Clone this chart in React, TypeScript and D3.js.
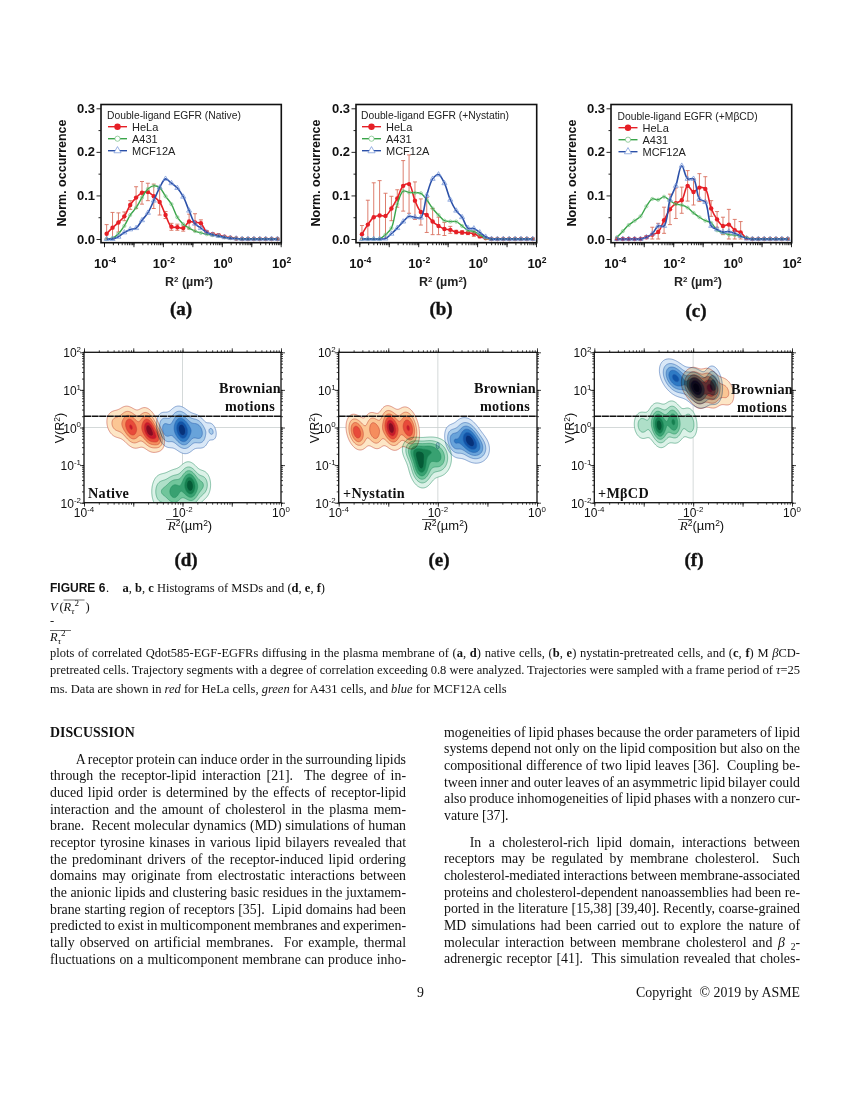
import React, { useEffect, useRef } from 'react';
import * as d3 from 'd3';

// bin centres of the MSD histograms, log10(um^2)
const binExponents = [-3.91, -3.71, -3.51, -3.31, -3.11, -2.91, -2.71, -2.51, -2.31, -2.11, -1.91, -1.71, -1.51, -1.31, -1.11, -0.91, -0.71, -0.51, -0.31, -0.11, 0.09, 0.29, 0.49, 0.69, 0.89, 1.09, 1.29, 1.49, 1.69, 1.89];

const helaNative = [.012, .026, .038, .052, .078, .095, .106, .108, .098, .085, .055, .028, .027, .025, .04, .038, .036, .015, .011, .009, .005, .003, .001, 0, 0, 0, 0, 0, 0, 0];
const helaNativeErr = [.021, .035, .022, .01, .01, .025, .026, .02, .028, .03, .008, .008, .007, .007, .017, .02, .008, .004, .003, .002, 0, 0, 0, 0, 0, 0, 0, 0, 0, 0];
const a431Native = [0, .002, .012, .03, .055, .072, .095, .115, .122, .118, .098, .08, .05, .034, .025, .018, .014, .011, .009, .007, .004, .002, .001, 0, 0, 0, 0, 0, 0, 0];
const mcfNative = [0, 0, .005, .015, .022, .025, .043, .06, .088, .118, .138, .128, .117, .097, .065, .035, .025, .015, .01, .007, .004, .002, .001, 0, 0, 0, 0, 0, 0, 0];

const helaNystatin = [.011, .033, .05, .054, .053, .07, .093, .122, .126, .088, .062, .055, .04, .03, .023, .021, .016, .015, .014, .012, .006, .002, 0, 0, 0, 0, 0, 0, 0, 0];
const helaNystatinErr = [.02, .056, .079, .08, .052, .028, .02, .058, .067, .043, .03, .04, .03, .02, .015, .008, .004, .004, .004, .006, .003, 0, 0, 0, 0, 0, 0, 0, 0, 0];
const a431Nystatin = [0, 0, 0, 0, .01, .025, .08, .11, .107, .106, .105, .09, .07, .055, .042, .04, .04, .03, .02, .017, .01, .002, 0, 0, 0, 0, 0, 0, 0, 0];
const mcfNystatin = [0, 0, 0, 0, .001, .012, .025, .04, .052, .05, .049, .1, .138, .148, .128, .09, .065, .05, .025, .024, .015, .005, 0, 0, 0, 0, 0, 0, 0, 0];

const helaMbcd = [0, 0, 0, 0, 0, .004, .01, .016, .043, .068, .082, .089, .122, .108, .118, .115, .07, .045, .03, .033, .02, .015, .002, 0, 0, 0, 0, 0, 0, 0];
const helaMbcdErr = [0, 0, 0, 0, 0, .003, .017, .02, .03, .035, .035, .03, .035, .03, .032, .028, .018, .018, .02, .035, .025, .025, 0, 0, 0, 0, 0, 0, 0, 0];
const a431Mbcd = [.004, .018, .032, .042, .052, .075, .092, .09, .097, .088, .08, .078, .072, .06, .05, .042, .037, .02, .014, .01, .009, .006, .003, 0, 0, 0, 0, 0, 0, 0];
const mcfMbcd = [0, 0, 0, 0, 0, .004, .012, .03, .03, .09, .122, .168, .138, .138, .092, .085, .03, .022, .016, .017, .013, .007, .001, 0, 0, 0, 0, 0, 0, 0];

const cellNames = ['HeLa', 'A431', 'MCF12A'];
const yTicks = [0, 0.1, 0.2, 0.3];
const histTitles = ['Double-ligand EGFR (Native)', 'Double-ligand EGFR (+Nystatin)', 'Double-ligand EGFR (+M\u03b2CD)'];

// lobes of the V(R2) density maps: log10 R2, log10 V, height, sd x, sd y, correlation
type Lobe = [number, number, number, number, number, number];
const redNative: Lobe[] = [[-3.37, .08, .35, .13, .25, -.2], [-3.05, 0, .8, .13, .3, -.35], [-2.69, -.07, 1, .12, .3, -.35], [-2.5, -.3, .4, .08, .18, -.3]];
const blueNative: Lobe[] = [[-2.36, -.07, .5, .11, .28, -.3], [-2.02, -.07, 1, .14, .32, -.25], [-1.68, -.11, .55, .12, .26, -.3], [-1.41, -.11, .3, .07, .16, -.3]];
const greenNative: Lobe[] = [[-2.46, -1.71, .4, .12, .3, 0], [-2.17, -1.71, .7, .13, .32, 0], [-1.85, -1.55, 1, .12, .32, -.15], [-1.58, -1.53, .4, .1, .24, 0]];

const redNystatin: Lobe[] = [[-3.64, -.13, .75, .12, .26, -.3], [-3.29, -.09, .6, .11, .28, -.3], [-2.95, -.02, 1, .12, .3, -.3], [-2.6, -.02, .8, .12, .3, -.3]];
const greenNystatin: Lobe[] = [[-2.35, -1.04, 1, .13, .3, -.15], [-2.49, -.62, .6, .14, .2, -.1], [-1.99, -.82, .7, .15, .28, 0], [-2.19, -.58, .5, .13, .18, 0]];
const blueNystatin: Lobe[] = [[-1.385, -.33, 1, .15, .3, -.3], [-1.69, -.38, .55, .11, .25, -.35], [-1.15, -.55, .35, .13, .22, -.1], [-2.01, -.49, .3, .025, .07, 0]];

const blueMbcd: Lobe[] = [[-2.37, 1.31, .85, .17, .27, -.4], [-1.93, 1.04, 1, .14, .27, -.3], [-1.59, 1.13, .7, .1, .28, -.2]];
const redMbcd: Lobe[] = [[-1.93, 1.04, 1, .11, .28, -.3], [-1.66, 1.04, .9, .11, .28, -.3], [-1.36, .95, .4, .13, .26, -.3], [-2.1, 1.13, .35, .11, .22, -.2]];
const greenMbcd: Lobe[] = [[-3.04, .05, .4, .11, .24, -.1], [-2.7, .05, 1, .11, .3, -.2], [-2.4, .14, .8, .11, .3, -.2], [-2.08, .11, .45, .1, .26, -.2]];

const densityLevels = [.14, .3, .46, .62, .78, .9];
const redRamp = ['#fde6c6', '#fbc694', '#f58d5e', '#e84a3a', '#c9182b', '#860a22'];
const greenRamp = ['#dcf2e8', '#aedfc8', '#70c59b', '#38a171', '#167f4f', '#055a36'];
const blueRamp = ['#d9e8f7', '#a6cbea', '#68a3da', '#2e7ac4', '#1055a8', '#06327a'];

const captionLines = [
  'plots of correlated Qdot585-EGF-EGFRs diffusing in the plasma membrane of (<b>a</b>, <b>d</b>) native cells, (<b>b</b>, <b>e</b>) nystatin-pretreated cells, and (<b>c</b>, <b>f</b>) M <i>\u03b2</i>CD-',
  'pretreated cells. Trajectory segments with a degree of correlation exceeding 0.8 were analyzed. Trajectories were sampled with a frame period of <i>\u03c4</i>=25',
];
const captionLast = 'ms. Data are shown in <i>red</i> for HeLa cells, <i>green</i> for A431 cells, and <i>blue</i> for MCF12A cells';

const leftColumn = [
  'A receptor protein can induce order in the surrounding lipids',
  'through the receptor-lipid interaction [21].  The degree of in-',
  'duced lipid order is determined by the effects of receptor-lipid',
  'interaction and the amount of cholesterol in the plasma mem-',
  'brane.  Recent molecular dynamics (MD) simulations of human',
  'receptor tyrosine kinases in various lipid bilayers revealed that',
  'the predominant drivers of the receptor-induced lipid ordering',
  'domains may originate from electrostatic interactions between',
  'the anionic lipids and clustering basic residues in the juxtamem-',
  'brane starting region of receptors [35].  Lipid domains had been',
  'predicted to exist in multicomponent membranes and experimen-',
  'tally observed on artificial membranes.  For example, thermal',
  'fluctuations on a multicomponent membrane can produce inho-',
];
const rightColumnA = [
  'mogeneities of lipid phases because the order parameters of lipid',
  'systems depend not only on the lipid composition but also on the',
  'compositional difference of two lipid leaves [36].  Coupling be-',
  'tween inner and outer leaves of an asymmetric lipid bilayer could',
  'also produce inhomogeneities of lipid phases with a nonzero cur-',
];
const rightColumnB = [
  'In a cholesterol-rich lipid domain, interactions between',
  'receptors may be regulated by membrane cholesterol.  Such',
  'cholesterol-mediated interactions between membrane-associated',
  'proteins and cholesterol-dependent nanoassemblies had been re-',
  'ported in the literature [15,38] [39,40]. Recently, coarse-grained',
  'MD simulations had been carried out to explore the nature of',
  'molecular interaction between membrane cholesterol and <i>\u03b2</i> <u>2</u>-',
  'adrenergic receptor [41].  This simulation revealed that choles-',
];

const SANS = '"Liberation Sans", Arial, sans-serif';
const SERIF = '"Liberation Serif", "Times New Roman", serif';

type Sel = d3.Selection<any, any, any, any>;

// writes a string with <b>/<i>/<u> marks into a text element, <u> being a subscript
function richText(t: Sel, s: string) {
  let weight = 'normal';
  let style = 'normal';
  let sub = false;
  let back = 0;
  s.split(/(<\/?[biu]>)/).forEach((part) => {
    if (part === '<b>') weight = 'bold';
    else if (part === '</b>') weight = 'normal';
    else if (part === '<i>') style = 'italic';
    else if (part === '</i>') style = 'normal';
    else if (part === '<u>') sub = true;
    else if (part === '</u>') sub = false;
    else if (part) {
      const span = t.append('tspan').attr('font-weight', weight).attr('font-style', style).text(part);
      if (sub) { span.attr('dy', 3).attr('font-size', 9.5); back = -3; } else if (back) { span.attr('dy', back); back = 0; }
    }
  });
}

function textLine(svg: Sel, s: string, x: number, y: number, size: number, width?: number) {
  const t = svg.append('text').attr('x', x).attr('y', y).attr('font-family', SERIF).attr('font-size', size)
    .attr('fill', '#111').style('white-space', 'pre');
  richText(t, s);
  if (width) {
    const node = t.node() as SVGTextElement;
    const len = node.getComputedTextLength();
    const spaces = (s.replace(/<[^>]+>/g, '').match(/ /g) || []).length;
    t.attr('word-spacing', (width - len) / spaces);
  }
  return t;
}

function powerLabel(g: Sel, exp: number, x: number, y: number, anchor: string, size: number, bold: boolean) {
  const t = g.append('text').attr('x', x).attr('y', y).attr('text-anchor', anchor).attr('font-family', SANS)
    .attr('font-size', size).attr('font-weight', bold ? 'bold' : 'normal').attr('fill', '#111');
  t.append('tspan').text('10');
  t.append('tspan').attr('dy', -size * 0.42).attr('font-size', size * 0.66).text(exp);
}

function drawHistogram(svg: Sel, o: {
  left: number; right: number; x0: number; x1: number; title: string; legendX: number; legendDy: number;
  hela: number[]; helaErr: number[]; a431: number[]; mcf: number[]; yLabelX: number; xLabelX: number;
}) {
  const top = 104.5;
  const bottom = 242.7;
  const x = d3.scaleLog().domain([1e-4, 1e2]).range([o.x0, o.x1]);
  const y = d3.scaleLinear().domain([0, 0.3]).range([239, 108.3]);
  const g = svg.append('g');
  const xs = binExponents.map((e) => Math.pow(10, e));

  const tick = (sel: Sel) => { sel.select('.domain').remove(); sel.selectAll('line').attr('stroke', '#111').attr('stroke-width', 0.9); };
  g.append('g').attr('transform', `translate(0,${bottom})`)
    .call(d3.axisBottom(x).tickValues(x.ticks()).tickFormat(() => '').tickSize(2.5) as any).call(tick as any);
  g.append('g').attr('transform', `translate(0,${bottom})`)
    .call(d3.axisBottom(x).tickValues([1e-4, 1e-3, 1e-2, 1e-1, 1, 10, 100]).tickFormat(() => '').tickSize(4.5) as any).call(tick as any);
  g.append('g').attr('transform', `translate(${o.left},0)`)
    .call(d3.axisLeft(y).tickValues([.05, .15, .25]).tickFormat(() => '').tickSize(2.5) as any).call(tick as any);
  g.append('g').attr('transform', `translate(${o.left},0)`)
    .call(d3.axisLeft(y).tickValues(yTicks).tickFormat(() => '').tickSize(4.5) as any).call(tick as any);
  g.append('rect').attr('x', o.left).attr('y', top).attr('width', o.right - o.left).attr('height', bottom - top)
    .attr('fill', 'none').attr('stroke', '#111').attr('stroke-width', 1.6);

  yTicks.forEach((v) => {
    g.append('text').attr('x', o.left - 6).attr('y', y(v) + 4.5).attr('text-anchor', 'end').attr('font-family', SANS)
      .attr('font-size', 13).attr('font-weight', 'bold').attr('fill', '#111').text(v.toFixed(1));
  });
  [-4, -2, 0, 2].forEach((e) => powerLabel(g, e, x(Math.pow(10, e)) + 1, 268, 'middle', 13, true));

  g.append('text').attr('transform', `translate(${o.yLabelX},173) rotate(-90)`).attr('text-anchor', 'middle')
    .attr('font-family', SANS).attr('font-size', 12.5).attr('font-weight', 'bold').attr('fill', '#111').text('Norm. occurrence');
  const xl = g.append('text').attr('x', o.xLabelX).attr('y', 286).attr('text-anchor', 'middle').attr('font-family', SANS)
    .attr('font-size', 12.5).attr('font-weight', 'bold').attr('fill', '#222');
  xl.append('tspan').text('R');
  xl.append('tspan').attr('dy', -4.5).attr('font-size', 8).text('2');
  xl.append('tspan').attr('dy', 4.5).text(' (\u00b5m');
  xl.append('tspan').attr('dy', -4.5).attr('font-size', 8).text('2');
  xl.append('tspan').attr('dy', 4.5).text(')');

  const red = '#e61f26';
  const green = '#3aa54a';
  const blue = '#2b50a8';
  const line = d3.line<number>().x((_, i) => x(xs[i])).y((d) => y(d)).curve(d3.curveCatmullRom);

  // error bars of HeLa
  o.hela.forEach((v, i) => {
    const e = o.helaErr[i];
    if (!e) return;
    const px = x(xs[i]);
    const path = d3.path();
    path.moveTo(px, y(v + e)); path.lineTo(px, y(Math.max(0, v - e)));
    path.moveTo(px - 2, y(v + e)); path.lineTo(px + 2, y(v + e));
    path.moveTo(px - 2, y(Math.max(0, v - e))); path.lineTo(px + 2, y(Math.max(0, v - e)));
    g.append('path').attr('d', path.toString()).attr('fill', 'none').attr('stroke', '#d9705f').attr('stroke-width', 0.9);
  });

  const tri = d3.symbol().type(d3.symbolTriangle);
  g.append('path').attr('d', line(o.hela)).attr('fill', 'none').attr('stroke', red).attr('stroke-width', 1.6);
  o.hela.forEach((v, i) => g.append('circle').attr('cx', x(xs[i])).attr('cy', y(v)).attr('r', 2.2).attr('fill', red));
  g.append('path').attr('d', line(o.a431)).attr('fill', 'none').attr('stroke', green).attr('stroke-width', 1.4);
  o.a431.forEach((v, i) => g.append('circle').attr('cx', x(xs[i])).attr('cy', y(v)).attr('r', 1.6).attr('fill', 'none').attr('stroke', '#7cc487').attr('stroke-width', 0.7));
  g.append('path').attr('d', line(o.mcf)).attr('fill', 'none').attr('stroke', blue).attr('stroke-width', 1.6);
  o.mcf.forEach((v, i) => g.append('path').attr('d', tri.size(11)()).attr('transform', `translate(${x(xs[i])},${y(v)})`)
    .attr('fill', 'none').attr('stroke', '#6d8fd6').attr('stroke-width', 0.7));

  // legend
  g.append('text').attr('x', o.legendX).attr('y', 118.8 + o.legendDy).attr('font-family', SANS).attr('font-size', 10.3).attr('fill', '#222').text(o.title);
  cellNames.forEach((name, i) => {
    const ly = 126.7 + o.legendDy + i * 12;
    const col = [red, green, blue][i];
    g.append('line').attr('x1', o.legendX + 1).attr('x2', o.legendX + 20).attr('y1', ly).attr('y2', ly).attr('stroke', col).attr('stroke-width', 1.4);
    const mx = o.legendX + 10.5;
    if (i === 0) g.append('circle').attr('cx', mx).attr('cy', ly).attr('r', 3.2).attr('fill', red);
    if (i === 1) g.append('circle').attr('cx', mx).attr('cy', ly).attr('r', 2.6).attr('fill', '#fff').attr('stroke', '#6fbd7b').attr('stroke-width', 0.7);
    if (i === 2) g.append('path').attr('d', tri.size(22)()).attr('transform', `translate(${mx},${ly})`).attr('fill', '#fff').attr('stroke', '#6d8fd6').attr('stroke-width', 0.7);
    g.append('text').attr('x', o.legendX + 25).attr('y', ly + 3.8).attr('font-family', SANS).attr('font-size', 11).attr('fill', '#222').text(name);
  });
}

// density field of a group of lobes on a log-log grid, cut into filled contours
function drawDensity(g: Sel, lobes: Lobe[], ramp: string[], stroke: string, x: any, y: any) {
  const nx = 280;
  const ny = 280;
  const values = new Float64Array(nx * ny);
  for (let j = 0; j < ny; j++) {
    for (let i = 0; i < nx; i++) {
      const lx = -4 + (i / nx) * 4;
      const ly = -2 + (j / ny) * 4;
      let sum = 0;
      lobes.forEach(([mx, my, a, sx, sy, r]) => {
        const dx = (lx - mx) / sx;
        const dy = (ly - my) / sy;
        sum += a * Math.exp(-(dx * dx - 2 * r * dx * dy + dy * dy) / (2 * (1 - r * r)));
      });
      values[i + j * nx] = sum;
    }
  }
  // peak of each group sits at 1
  const peak = d3.max(values as any) as number;
  for (let k = 0; k < values.length; k++) values[k] /= peak;

  const bands = d3.contours().size([nx, ny]).thresholds(densityLevels)(values as any);
  const projection = d3.geoTransform({
    point(px: number, py: number) {
      (this as any).stream.point(x(Math.pow(10, -4 + (px / nx) * 4)), y(Math.pow(10, -2 + (py / ny) * 4)));
    },
  });
  const path = d3.geoPath(projection);
  g.append('g').style('mix-blend-mode', 'multiply').selectAll('path').data(bands).enter().append('path')
    .attr('d', (d: any) => path(d))
    .attr('fill', (_: any, i: number) => ramp[i])
    .attr('stroke', stroke).attr('stroke-width', 0.6).attr('stroke-opacity', 0.85);
}

function drawDensityPanel(svg: Sel, o: {
  id: string; left: number; right: number; groups: [Lobe[], string[], string][]; tag: string;
  tagX: number; brownX: number; brownDy: number; vLabelX: number; xLabelX: number;
}) {
  const top = 352.3;
  const bottom = 502.7;
  const x = d3.scaleLog().domain([1e-4, 1]).range([o.left, o.right]);
  const y = d3.scaleLog().domain([1e-2, 1e2]).range([bottom, top]);
  const g = svg.append('g');
  g.append('clipPath').attr('id', o.id).append('rect').attr('x', o.left).attr('y', top).attr('width', o.right - o.left).attr('height', bottom - top);

  g.append('line').attr('x1', x(1e-2)).attr('x2', x(1e-2)).attr('y1', top).attr('y2', bottom).attr('stroke', '#c9cfcf').attr('stroke-width', 0.8);
  g.append('line').attr('x1', o.left).attr('x2', o.right).attr('y1', y(1)).attr('y2', y(1)).attr('stroke', '#c9cfcf').attr('stroke-width', 0.8);

  const inner = g.append('g').attr('clip-path', `url(#${o.id})`);
  o.groups.forEach(([lobes, ramp, stroke]) => drawDensity(inner, lobes, ramp, stroke, x, y));

  g.append('line').attr('x1', o.left).attr('x2', o.right).attr('y1', y(2)).attr('y2', y(2)).attr('stroke', '#111').attr('stroke-width', 1.6).attr('stroke-dasharray', '7 0.6');

  const tick = (sel: Sel) => { sel.select('.domain').remove(); sel.selectAll('line').attr('stroke', '#111').attr('stroke-width', 0.8); };
  const xMajor = [1e-4, 1e-3, 1e-2, 1e-1, 1];
  const yMajor = [1e-2, 1e-1, 1, 10, 100];
  g.append('g').attr('transform', `translate(0,${bottom})`).call(d3.axisBottom(x).tickValues(x.ticks()).tickFormat(() => '').tickSize(2) as any).call(tick as any);
  g.append('g').attr('transform', `translate(0,${bottom})`).call(d3.axisBottom(x).tickValues(xMajor).tickFormat(() => '').tickSize(4) as any).call(tick as any);
  g.append('g').attr('transform', `translate(0,${top})`).call(d3.axisTop(x).tickValues(x.ticks()).tickFormat(() => '').tickSize(2) as any).call(tick as any);
  g.append('g').attr('transform', `translate(0,${top})`).call(d3.axisTop(x).tickValues(xMajor).tickFormat(() => '').tickSize(4) as any).call(tick as any);
  g.append('g').attr('transform', `translate(${o.left},0)`).call(d3.axisLeft(y).tickValues(y.ticks()).tickFormat(() => '').tickSize(2) as any).call(tick as any);
  g.append('g').attr('transform', `translate(${o.left},0)`).call(d3.axisLeft(y).tickValues(yMajor).tickFormat(() => '').tickSize(4) as any).call(tick as any);
  g.append('g').attr('transform', `translate(${o.right},0)`).call(d3.axisRight(y).tickValues(y.ticks()).tickFormat(() => '').tickSize(2) as any).call(tick as any);
  g.append('g').attr('transform', `translate(${o.right},0)`).call(d3.axisRight(y).tickValues(yMajor).tickFormat(() => '').tickSize(4) as any).call(tick as any);
  g.append('rect').attr('x', o.left).attr('y', top).attr('width', o.right - o.left).attr('height', bottom - top)
    .attr('fill', 'none').attr('stroke', '#111').attr('stroke-width', 1.3);

  [-4, -2, 0].forEach((e) => powerLabel(g, e, x(Math.pow(10, e)), 517, 'middle', 12, false));
  [-2, -1, 0, 1, 2].forEach((e) => powerLabel(g, e, o.left - 3, y(Math.pow(10, e)) + 5, 'end', 12, false));

  const vl = g.append('text').attr('transform', `translate(${o.vLabelX},428) rotate(-90)`).attr('text-anchor', 'middle')
    .attr('font-family', SANS).attr('font-size', 12.5).attr('fill', '#111');
  vl.append('tspan').text('V(R');
  vl.append('tspan').attr('dy', -4).attr('font-size', 8.5).text('2');
  vl.append('tspan').attr('dy', 4).text(')');

  const xl = g.append('text').attr('x', o.xLabelX).attr('y', 530).attr('text-anchor', 'middle').attr('font-family', SANS)
    .attr('font-size', 13).attr('fill', '#111');
  xl.append('tspan').attr('font-family', SERIF).attr('font-style', 'italic').text('R');
  xl.append('tspan').attr('dy', -4).attr('font-size', 8.5).text('2');
  xl.append('tspan').attr('dy', 4).text('(\u00b5m');
  xl.append('tspan').attr('dy', -4).attr('font-size', 8.5).text('2');
  xl.append('tspan').attr('dy', 4).text(')');
  g.append('line').attr('x1', o.xLabelX - 24).attr('x2', o.xLabelX - 10).attr('y1', 519.5).attr('y2', 519.5).attr('stroke', '#111').attr('stroke-width', 0.7);

  const bold = (s: string, px: number, py: number, anchor: string) => g.append('text').attr('x', px).attr('y', py).attr('text-anchor', anchor)
    .attr('font-family', SERIF).attr('font-weight', 'bold').attr('font-size', 14.2).attr('letter-spacing', 0.3).attr('fill', '#111').text(s);
  bold('Brownian', o.brownX, 393 + o.brownDy, 'middle');
  bold('motions', o.brownX, 411 + o.brownDy, 'middle');
  bold(o.tag, o.tagX, 498, 'start');
}

export default function App() {
  const ref = useRef<SVGSVGElement>(null);

  useEffect(() => {
    if (!ref.current) return;
    d3.select(ref.current).selectAll('*').remove();
    const svg = d3.select(ref.current) as unknown as Sel;

    drawHistogram(svg, { left: 101, right: 281.3, x0: 104, x1: 280.7, title: histTitles[0], legendX: 107, legendDy: 0, hela: helaNative, helaErr: helaNativeErr, a431: a431Native, mcf: mcfNative, yLabelX: 65.5, xLabelX: 189 });
    drawHistogram(svg, { left: 356, right: 536.7, x0: 359.3, x1: 536, title: histTitles[1], legendX: 361, legendDy: 0, hela: helaNystatin, helaErr: helaNystatinErr, a431: a431Nystatin, mcf: mcfNystatin, yLabelX: 320, xLabelX: 443 });
    drawHistogram(svg, { left: 611, right: 791.7, x0: 614.3, x1: 791, title: histTitles[2], legendX: 617.5, legendDy: 1, hela: helaMbcd, helaErr: helaMbcdErr, a431: a431Mbcd, mcf: mcfMbcd, yLabelX: 575.5, xLabelX: 698 });

    drawDensityPanel(svg, { id: 'clip-d', left: 84, right: 281, tag: 'Native', tagX: 88, brownX: 250, brownDy: 0, vLabelX: 64, xLabelX: 190,
      groups: [[redNative, redRamp, '#c2402f'], [blueNative, blueRamp, '#2a5cab'], [greenNative, greenRamp, '#1f8a5c']] });
    drawDensityPanel(svg, { id: 'clip-e', left: 338.7, right: 537, tag: '+Nystatin', tagX: 343, brownX: 505, brownDy: 0, vLabelX: 318.5, xLabelX: 446,
      groups: [[redNystatin, redRamp, '#c2402f'], [greenNystatin, greenRamp, '#1f8a5c'], [blueNystatin, blueRamp, '#2a5cab']] });
    drawDensityPanel(svg, { id: 'clip-f', left: 594.3, right: 792, tag: '+M\u03b2CD', tagX: 598, brownX: 762, brownDy: 1, vLabelX: 573.5, xLabelX: 702,
      groups: [[blueMbcd, blueRamp, '#2a5cab'], [redMbcd, redRamp, '#c2402f'], [greenMbcd, greenRamp, '#1f8a5c']] });

    // panel letters
    [['(a)', 181, 315], ['(b)', 441, 315], ['(c)', 696, 317], ['(d)', 186, 566], ['(e)', 439, 566], ['(f)', 694, 566]].forEach(([s, px, py]) => {
      svg.append('text').attr('x', px).attr('y', py).attr('text-anchor', 'middle').attr('font-family', SERIF)
        .attr('font-weight', 'bold').attr('font-size', 19).attr('fill', '#111').attr('stroke', '#111').attr('stroke-width', 0.35).text(s as string);
    });

    // caption
    svg.append('text').attr('x', 50).attr('y', 592.3).attr('font-family', SANS).attr('font-weight', 'bold').attr('font-size', 12).attr('fill', '#111').text('FIGURE 6');
    textLine(svg, '.', 106, 592.3, 12.5);
    textLine(svg, '<b>a</b>, <b>b</b>, <b>c</b> Histograms of MSDs and (<b>d</b>, <b>e</b>, <b>f</b>)', 122.5, 592.3, 12.5);

    const meanSquare = (py: number, px: number) => {
      const r = svg.append('text').attr('x', px).attr('y', py).attr('font-family', SERIF).attr('font-size', 12.5).attr('font-style', 'italic').attr('fill', '#111');
      r.append('tspan').text('R');
      r.append('tspan').attr('dy', 3).attr('font-size', 9).text('\u03c4');
      r.append('tspan').attr('dy', -8).attr('font-size', 9).attr('font-style', 'normal').text('2');
      svg.append('line').attr('x1', px).attr('x2', px + 21).attr('y1', py - 10.5).attr('y2', py - 10.5).attr('stroke', '#111').attr('stroke-width', 0.6);
    };
    textLine(svg, '<i>V</i>', 50, 610.5, 12.5);
    textLine(svg, '(', 59.5, 610.5, 12.5);
    meanSquare(610.5, 63.5);
    textLine(svg, ')', 85.5, 610.5, 12.5);
    textLine(svg, '-', 50, 625, 12.5);
    meanSquare(641, 50);
    captionLines.forEach((s, i) => textLine(svg, s, 50, 656.5 + i * 17.5, 12.5, 750));
    textLine(svg, captionLast, 50, 692.5, 12.5);

    // body text
    svg.append('text').attr('x', 50).attr('y', 736.7).attr('font-family', SERIF).attr('font-weight', 'bold').attr('font-size', 13.85).attr('fill', '#111').text('DISCUSSION');
    leftColumn.forEach((s, i) => {
      const indent = i === 0 ? 25.7 : 0;
      textLine(svg, s, 50 + indent, 763.7 + i * 16.65, 13.85, 356 - indent);
    });
    rightColumnA.forEach((s, i) => textLine(svg, s, 444, 736.7 + i * 16.65, 13.85, 356));
    textLine(svg, 'vature [37].', 444, 820, 13.85);
    rightColumnB.forEach((s, i) => {
      const indent = i === 0 ? 25.7 : 0;
      textLine(svg, s, 444 + indent, 846.7 + i * 16.65, 13.85, 356 - indent);
    });

    // footer
    textLine(svg, '9', 417, 997, 13.85);
    textLine(svg, 'Copyright  \u00a9 2019 by ASME', 636, 997, 13.85, 164);
  }, []);

  return <svg ref={ref} width={850} height={1100} style={{ position: 'absolute', left: 0, top: 0, background: '#fff' }} />;
}
